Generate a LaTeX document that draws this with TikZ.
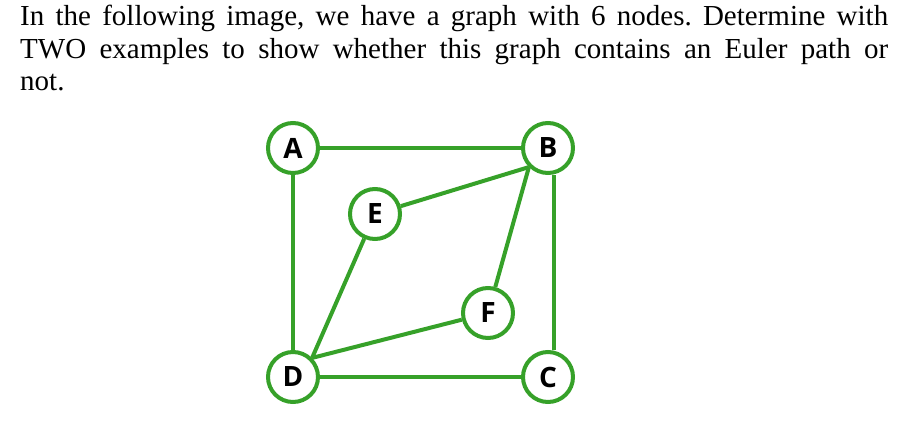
\documentclass[tikz,border=0pt]{standalone}
\usepackage{fontspec}
\setmainfont{Liberation Serif}
\newfontfamily\vertexfont{Open Sans}
\definecolor{graphgreen}{rgb}{0.21, 0.63, 0.16}
\tikzset{
  vertex/.style={circle,draw=graphgreen,line width=4pt,fill=white,minimum size=50pt,inner sep=0pt,font=\vertexfont\bfseries\fontsize{28}{28}\selectfont},
  edge/.style={graphgreen,line width=4pt}
}
\begin{document}
\frenchspacing
\begin{tikzpicture}[x=1pt,y=-1pt]
  \useasboundingbox (0,0) rectangle (908,426);
  % Question
  \node[anchor=north west,inner sep=0pt,text width=868pt,align=justify,font=\fontsize{29}{32.5}\selectfont] (question) at (20,5)
    {In the following image, we have a graph with 6 nodes. Determine with\linebreak TWO examples to show whether this graph contains an Euler path or\linebreak not.};
  % Vertices
  \node[vertex] (A) at (293,148) {A};
  \node[vertex] (B) at (548,148) {B};
  \node[vertex] (E) at (375,214) {E};
  \node[vertex] (F) at (488,313) {F};
  \node[vertex] (D) at (293,377) {D};
  \node[vertex] (C) at (548,377) {C};
  % Edges
  \draw[edge] (A) -- (B);
  \draw[edge] (A) -- (D);
  \draw[edge] ([xshift=6pt]B.south) -- ([xshift=6pt]C.north);
  \draw[edge] (D) -- (C);
  \draw[edge] (E) -- (B.south west);
  \draw[edge] (F) -- (B.south west);
  \draw[edge] (E) -- (D.north east);
  \draw[edge] (F) -- (D.north east);
\end{tikzpicture}
\end{document}
